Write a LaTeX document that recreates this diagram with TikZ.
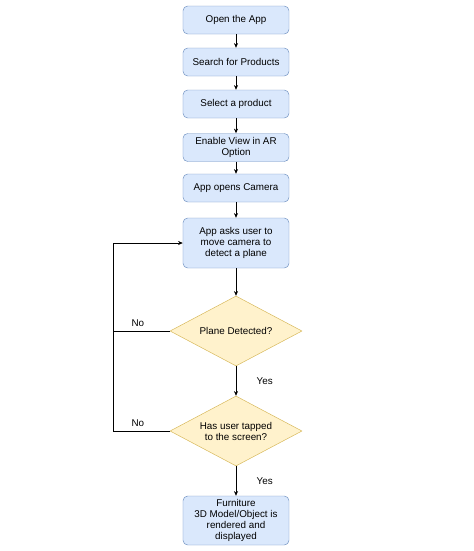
\documentclass[tikz,border=0pt]{standalone}
\usepackage{fontspec}
\setmainfont{Liberation Sans}
\usetikzlibrary{shapes.geometric, arrows.meta, positioning}
\definecolor{boxfill}{HTML}{DAE8FC}
\definecolor{boxline}{HTML}{6C8EBF}
\definecolor{decfill}{HTML}{FFF2CC}
\definecolor{decline}{HTML}{D6B656}
\tikzset{
    stepbox/.style = {draw = boxline, fill = boxfill, rounded corners = 4pt, minimum width = 3.18cm, minimum height = 0.84cm, align = center, font = \fontsize{8.4}{9.4}\selectfont, inner sep = 1pt},
    decision/.style = {draw = decline, fill = decfill, diamond, aspect = 1.9, minimum width = 3.96cm, minimum height = 2.1cm, inner sep = 0pt, align = center, font = \fontsize{8.4}{9.4}\selectfont},
    flow/.style = {-{Stealth[length = 4pt, width = 3.5pt]}, line width = 0.7pt},
    lbl/.style = {font = \fontsize{8.4}{9.4}\selectfont}
}
\begin{document}
\begin{tikzpicture}[x = 0.03cm, y = -0.03cm]
    \useasboundingbox (0,0) rectangle (474,551);
    % Schritte
    \node[stepbox] (open) at (236,20) {Open the App};
    \node[stepbox] (search) at (236,62) {Search for Products};
    \node[stepbox] (select) at (236,104) {Select a product};
    \node[stepbox] (enable) at (236,147.5) {Enable View in AR\\Option};
    \node[stepbox] (camera) at (236,188) {App opens Camera};
    \node[stepbox, minimum height = 1.5cm] (ask) at (236,243) {App asks user to\\move camera to\\detect a plane};
    % Entscheidungen
    \node[decision] (plane) at (236,331) {Plane Detected?};
    \node[decision] (tap) at (236,431) {Has user tapped\\to the screen?};
    \node[stepbox, minimum height = 1.47cm] (render) at (236,520.5) {Furniture\\3D Model/Object is\\rendered and\\displayed};
    % Pfeile
    \draw[flow] (open) -- (search);
    \draw[flow] (search) -- (select);
    \draw[flow] (select) -- (enable);
    \draw[flow] (enable) -- (camera);
    \draw[flow] (camera) -- (ask);
    \draw[flow] (ask) -- (plane);
    \draw[flow] (plane) -- node[lbl, right = 14pt] {Yes} (tap);
    \draw[flow] (tap) -- node[lbl, right = 14pt] {Yes} (render);
    % Schleife
    \coordinate (loop) at (113,331);
    \draw[line width = 0.5pt] (plane.west) -- node[lbl, above, xshift = -3pt] {No} (loop);
    \draw[line width = 0.5pt] (tap.west) -- node[lbl, above, xshift = -3pt] {No} (tap.west -| loop) -- (loop);
    \draw[flow] (loop) |- (ask.west);
\end{tikzpicture}
\end{document}
